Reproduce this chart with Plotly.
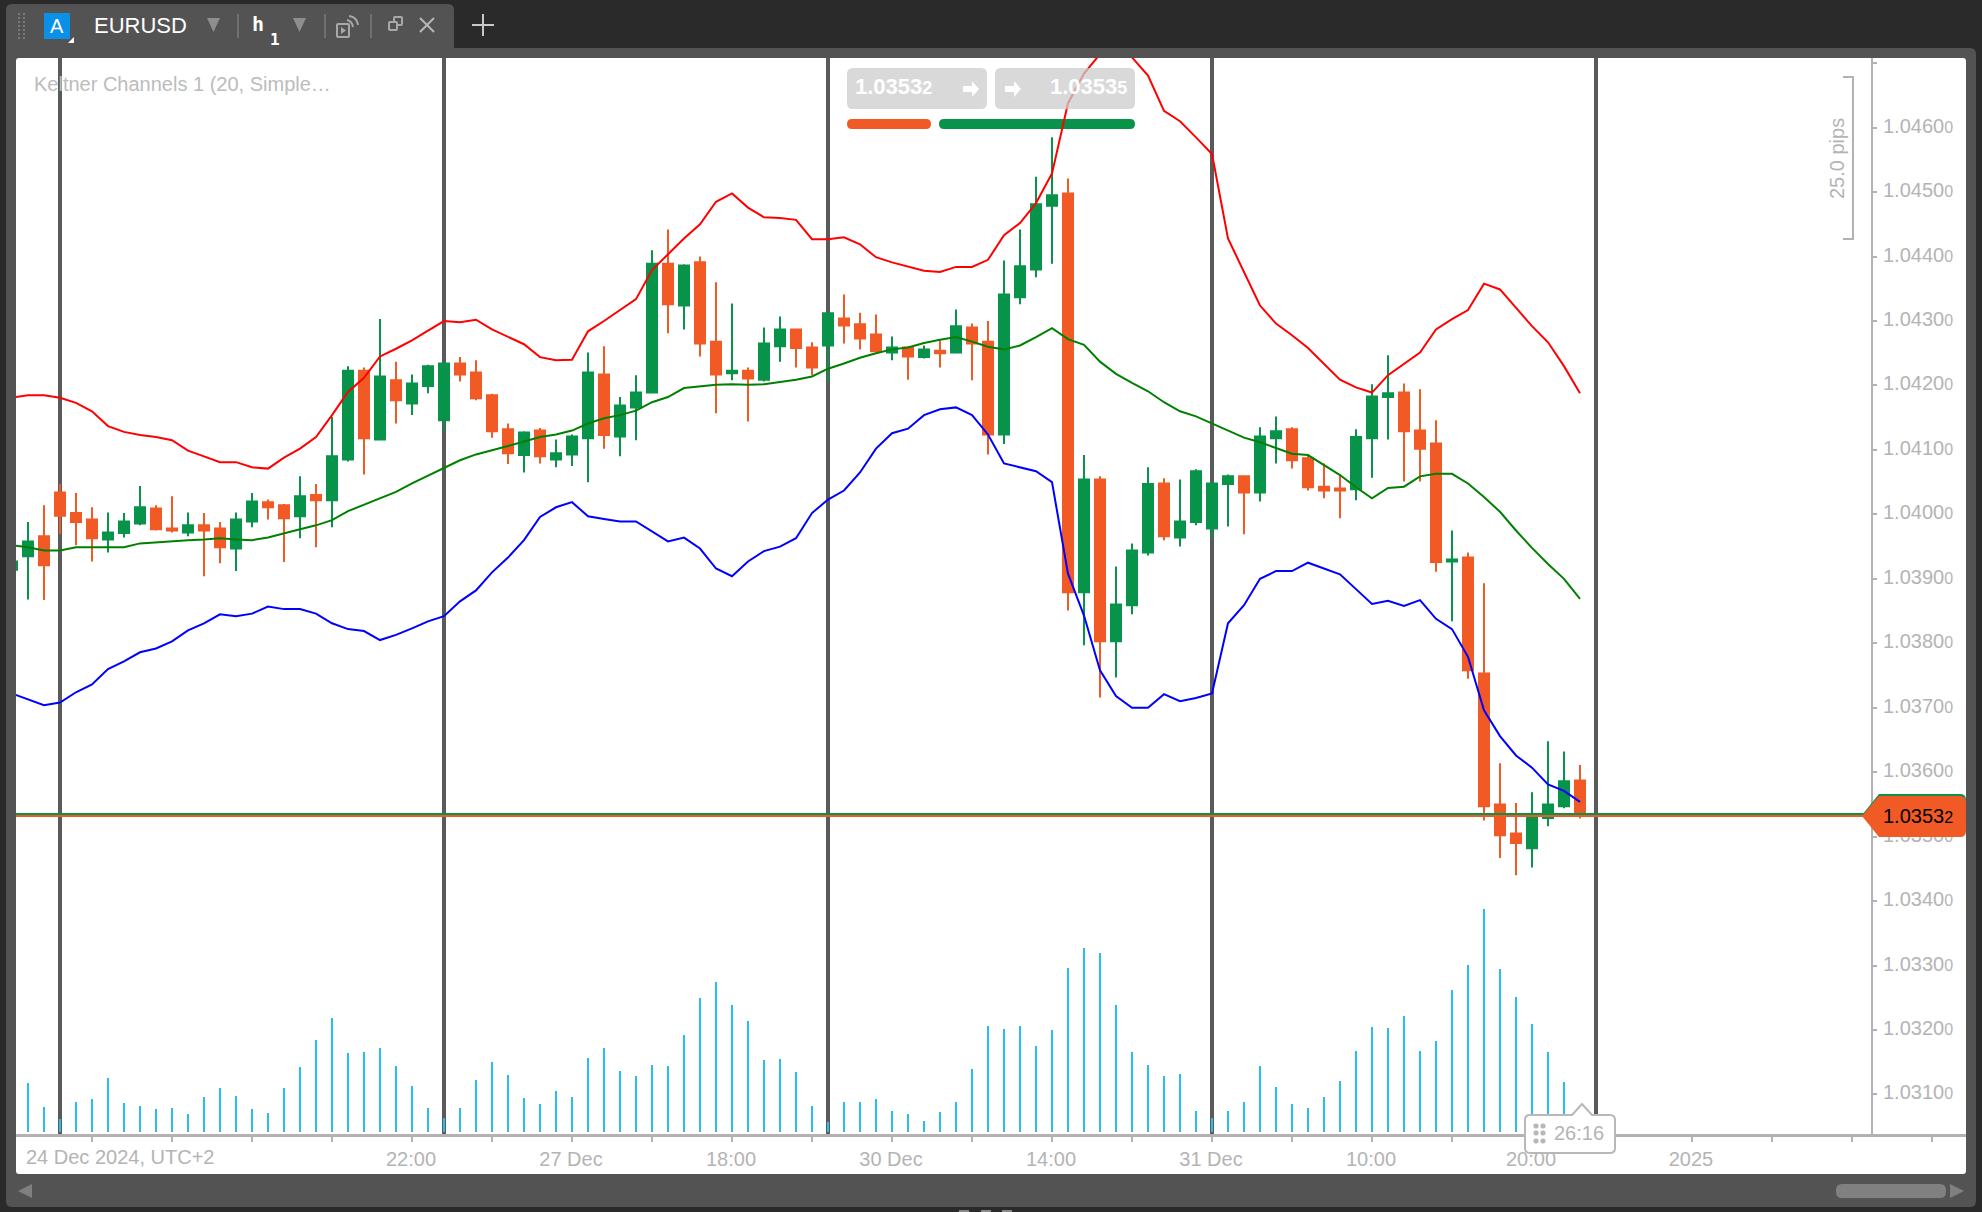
import plotly.graph_objects as go

bar_index = list(range(-1, 98))
open_ = [1.03914,1.03935,1.03966,1.04034,1.04002,1.03992,1.03961,1.03971,1.03986,1.04009,
1.03978,1.03972,1.03983,1.03978,1.03947,1.03989,1.04019,1.04014,1.03997,1.04030,
1.04022,1.04085,1.04223,1.04116,1.04208,1.04172,1.04199,1.04146,1.04234,1.04220,
1.04185,1.04132,1.04092,1.04130,1.04085,1.04093,1.04118,1.04217,1.04121,1.04166,
1.04189,1.04389,1.04324,1.04391,1.04268,1.04219,1.04223,1.04209,1.04261,1.04287,
1.04259,1.04262,1.04304,1.04295,1.04279,1.04251,1.04259,1.04244,1.04254,1.04251,
1.04290,1.04268,1.04124,1.04337,1.04380,1.04479,1.04498,1.03879,1.04054,1.03803,
1.03859,1.03941,1.04048,1.03964,1.03988,1.03978,1.04047,1.04059,1.04034,1.04118,
1.04132,1.04087,1.04043,1.04040,1.04039,1.04118,1.04182,1.04189,1.04130,1.04110,
1.03927,1.03933,1.03753,1.03550,1.03505,1.03482,1.03529,1.03547,1.03587]
high = [1.03935,1.03988,1.04014,1.04047,1.04033,1.04011,1.04003,1.04002,1.04044,1.04014,
1.04028,1.04003,1.04002,1.03988,1.04003,1.04033,1.04023,1.04016,1.04059,1.04047,
1.04151,1.04230,1.04228,1.04303,1.04237,1.04217,1.04232,1.04236,1.04244,1.04239,
1.04187,1.04141,1.04129,1.04134,1.04116,1.04124,1.04251,1.04261,1.04182,1.04216,
1.04410,1.04442,1.04388,1.04400,1.04360,1.04327,1.04228,1.04290,1.04307,1.04288,
1.04267,1.04312,1.04341,1.04313,1.04310,1.04276,1.04259,1.04262,1.04270,1.04318,
1.04296,1.04300,1.04394,1.04442,1.04524,1.04585,1.04521,1.04092,1.04059,1.03919,
1.03955,1.04073,1.04056,1.04054,1.04070,1.04048,1.04062,1.04060,1.04135,1.04152,
1.04135,1.04092,1.04079,1.04060,1.04132,1.04202,1.04247,1.04203,1.04194,1.04146,
1.03975,1.03941,1.03893,1.03614,1.03552,1.03569,1.03648,1.03632,1.03611]
low = [1.03905,1.03868,1.03867,1.03969,1.03952,1.03927,1.03941,1.03964,1.03983,1.03975,
1.03972,1.03966,1.03904,1.03924,1.03912,1.03980,1.03992,1.03926,1.03963,1.03949,
1.03980,1.04082,1.04062,1.04115,1.04141,1.04154,1.04188,1.04129,1.04206,1.04177,
1.04119,1.04078,1.04065,1.04079,1.04073,1.04075,1.04050,1.04102,1.04090,1.04115,
1.04188,1.04281,1.04287,1.04245,1.04157,1.04208,1.04144,1.04206,1.04237,1.04228,
1.04216,1.04206,1.04265,1.04256,1.04253,1.04239,1.04209,1.04242,1.04228,1.04251,
1.04208,1.04093,1.04109,1.04326,1.04368,1.04389,1.03851,1.03797,1.03716,1.03747,
1.03845,1.03936,1.03960,1.03950,1.03983,1.03964,1.03981,1.03969,1.04020,1.04079,
1.04071,1.04037,1.04025,1.03994,1.04022,1.04057,1.04116,1.04051,1.04051,1.03911,
1.03834,1.03745,1.03525,1.03467,1.03440,1.03452,1.03516,1.03544,1.03528]
close = [1.03927,1.03958,1.03921,1.03998,1.03988,1.03963,1.03972,1.03989,1.04011,1.03977,
1.03975,1.03983,1.03975,1.03949,1.03992,1.04020,1.04011,1.03994,1.04028,1.04022,
1.04090,1.04223,1.04118,1.04214,1.04177,1.04203,1.04230,1.04234,1.04217,1.04180,
1.04129,1.04095,1.04127,1.04090,1.04095,1.04121,1.04220,1.04123,1.04169,1.04189,
1.04389,1.04326,1.04386,1.04265,1.04217,1.04223,1.04211,1.04265,1.04287,1.04258,
1.04228,1.04312,1.04293,1.04273,1.04253,1.04259,1.04245,1.04256,1.04250,1.04292,
1.04265,1.04124,1.04341,1.04385,1.04481,1.04495,1.03879,1.04054,1.03803,1.03860,
1.03944,1.04047,1.03966,1.03989,1.04067,1.04048,1.04059,1.04034,1.04121,1.04129,
1.04084,1.04042,1.04037,1.04037,1.04120,1.04183,1.04188,1.04129,1.04102,1.03926,
1.03930,1.03758,1.03547,1.03502,1.03490,1.03530,1.03550,1.03586,1.03532]
keltner_upper = [1.04181,1.04185,1.04185,1.04181,1.04173,1.04160,1.04137,1.04128,1.04123,1.04120,
1.04115,1.04099,1.04090,1.04081,1.04081,1.04073,1.04071,1.04088,1.04102,1.04120,
1.04154,1.04190,1.04212,1.04245,1.04257,1.04270,1.04285,1.04300,1.04298,1.04302,
1.04287,1.04276,1.04264,1.04244,1.04239,1.04240,1.04284,1.04300,1.04317,1.04334,
1.04379,1.04404,1.04428,1.04450,1.04485,1.04498,1.04476,1.04461,1.04460,1.04457,
1.04427,1.04427,1.04430,1.04419,1.04399,1.04391,1.04384,1.04378,1.04376,1.04384,
1.04384,1.04395,1.04433,1.04452,1.04483,1.04529,1.04638,1.04684,1.04714,1.04723,
1.04709,1.04681,1.04626,1.04610,1.04585,1.04559,1.04428,1.04376,1.04324,1.04296,
1.04278,1.04258,1.04234,1.04209,1.04197,1.04189,1.04216,1.04233,1.04251,1.04287,
1.04303,1.04317,1.04358,1.04349,1.04321,1.04292,1.04267,1.04230,1.04188]
keltner_middle = [1.03952,1.03949,1.03944,1.03944,1.03949,1.03949,1.03949,1.03949,1.03955,1.03957,
1.03958,1.03960,1.03961,1.03963,1.03961,1.03960,1.03964,1.03971,1.03977,1.03983,
1.03991,1.04005,1.04015,1.04025,1.04035,1.04048,1.04060,1.04072,1.04084,1.04093,
1.04099,1.04106,1.04113,1.04120,1.04124,1.04130,1.04141,1.04149,1.04154,1.04161,
1.04174,1.04182,1.04196,1.04199,1.04201,1.04202,1.04201,1.04202,1.04205,1.04209,
1.04214,1.04226,1.04234,1.04243,1.04250,1.04256,1.04259,1.04266,1.04271,1.04275,
1.04268,1.04260,1.04256,1.04262,1.04275,1.04289,1.04272,1.04263,1.04237,1.04218,
1.04204,1.04191,1.04174,1.04160,1.04152,1.04141,1.04131,1.04119,1.04112,1.04103,
1.04094,1.04092,1.04076,1.04061,1.04042,1.04025,1.04041,1.04043,1.04059,1.04063,
1.04063,1.04048,1.04027,1.04004,1.03975,1.03948,1.03923,1.03900,1.03869]
keltner_lower = [1.03722,1.03713,1.03704,1.03708,1.03724,1.03736,1.03760,1.03772,1.03786,1.03792,
1.03803,1.03820,1.03831,1.03845,1.03842,1.03846,1.03857,1.03853,1.03853,1.03846,
1.03831,1.03822,1.03819,1.03805,1.03813,1.03823,1.03834,1.03842,1.03865,1.03882,
1.03910,1.03933,1.03960,1.03996,1.04011,1.04019,1.03997,1.03993,1.03989,1.03989,
1.03973,1.03958,1.03964,1.03947,1.03916,1.03904,1.03927,1.03943,1.03950,1.03963,
1.04002,1.04023,1.04037,1.04065,1.04102,1.04126,1.04133,1.04154,1.04163,1.04166,
1.04154,1.04124,1.04079,1.04073,1.04067,1.04050,1.03908,1.03843,1.03758,1.03718,
1.03700,1.03700,1.03721,1.03710,1.03715,1.03722,1.03831,1.03859,1.03900,1.03912,
1.03912,1.03925,1.03916,1.03907,1.03884,1.03861,1.03866,1.03858,1.03867,1.03838,
1.03822,1.03779,1.03696,1.03656,1.03626,1.03607,1.03581,1.03571,1.03554]
volume_index = list(range(0, 98))
volume = [146,74,38,89,98,161,86,77,68,71,53,104,131,107,68,56,131,194,275,341,
236,239,251,197,137,71,41,71,155,209,170,101,83,122,104,221,251,182,167,200,
197,290,401,449,380,332,215,218,179,
77,29,89,89,98,62,53,32,59,89,188,317,308,317,257,305,491,551,536,380,
239,200,167,173,62,41,62,89,197,134,83,71,104,152,242,314,311,347,242,272,
425,500,668,488,404,323,239,149,16]
separator_index = [2, 26, 50, 74, 98]
bid = 1.03532
ask = 1.03535
price_ticks = [1.047,1.046,1.045,1.044,1.043,1.042,1.041,1.040,1.039,1.038,1.037,1.036,1.035,1.034,1.033,1.032,1.031]
time_ticks = list(range(4, 120, 5))
time_labels = {24:"22:00", 34:"27 Dec", 44:"18:00", 54:"30 Dec", 64:"14:00", 74:"31 Dec", 84:"10:00", 94:"20:00", 104:"2025"}

GREEN = "#07934a"
ORANGE = "#f15a24"
AXIS = "#b2b2b2"
TEXT = "#b4b4b4"
FONT = "Liberation Sans"

# pixel geometry of the plot box
L, R, T, B = 16, 1966, 58, 1134
def px(x): return (x - L) / (R - L)
def py(y): return (B - y) / (B - T)

shapes, notes = [], []
def path(d, fill=None, line=None, width=0, layer="below"):
    out = []
    toks = d.split()
    i = 0
    while i < len(toks):
        t = toks[i]
        if t.isalpha():
            out.append(t); i += 1
        else:
            out.append(f"{px(float(t)):.6f},{py(float(toks[i+1])):.6f}"); i += 2
    s = dict(type="path", xref="paper", yref="paper", path=" ".join(out), layer=layer)
    s["fillcolor"] = fill if fill else "rgba(0,0,0,0)"
    s["line"] = dict(color=line, width=width) if line else dict(width=0)
    shapes.append(s)
def rrect(x0, y0, x1, y1, r, **kw):
    path(f"M {x0+r} {y0} L {x1-r} {y0} Q {x1} {y0} {x1} {y0+r} L {x1} {y1-r} Q {x1} {y1} {x1-r} {y1} "
         f"L {x0+r} {y1} Q {x0} {y1} {x0} {y1-r} L {x0} {y0+r} Q {x0} {y0} {x0+r} {y0} Z", **kw)
def note(x, y, text, size=20, color=TEXT, anchor="center", angle=0, family=FONT, bold=False):
    notes.append(dict(xref="paper", yref="paper", x=px(x), y=py(y), text=f"<b>{text}</b>" if bold else text,
                      showarrow=False, xanchor=anchor, yanchor="middle", textangle=angle,
                      font=dict(size=size, color=color, family=family)))
def small(text, size):
    return f'{text[:-1]}<span style="font-size:{size}px">{text[-1]}</span>'

# window chrome
rrect(6, 4, 454, 60, 6, fill="#535353")
rrect(6, 48, 1976, 1207, 6, fill="#535353")
rrect(16, 58, 1966, 1174, 3, fill="#ffffff")
for r_ in range(7):
    for c_ in (19, 24):
        rrect(c_-1, 14+r_*4-1, c_+1, 14+r_*4+1, 0.5, fill="#7e7e7e")
path("M 44 13 L 70 13 L 70 39 L 44 39 Z", fill="#0a90e6")
note(57, 26, "A", size=20, color="#ffffff")
path("M 74 37 L 74 43 L 68 43 Z", fill="#ffffff")
note(92, 26, "EURUSD", size=22, color="#ffffff", anchor="left")
for a in (207, 293):
    path(f"M {a} 18 L {a+13} 18 L {a+6.5} 32 Z", fill="#8e8e8e")
for a in (238, 325, 371):
    path(f"M {a} 14 L {a} 38", line="#707070", width=2)
note(258, 24, "h", size=20, color="#ffffff", bold=True, family="DejaVu Sans Mono")
note(275, 39, "1", size=16, color="#ffffff", bold=True, family="DejaVu Sans Mono")
ICON = "#a8a8a8"
rrect(337, 24, 349, 37, 1, line=ICON, width=2)
path("M 341 27 L 341 34 L 346 30.5 Z", fill=ICON)
path("M 347 20 Q 352 21 353 27", line=ICON, width=2)
path("M 349 16 Q 357 17 358 25", line=ICON, width=2)
rrect(394, 17, 402, 25, 1, line=ICON, width=2)
rrect(389, 22, 397, 30, 1, fill="#535353", line=ICON, width=2)
path("M 420 18 L 434 32", line="#b8b8b8", width=2)
path("M 434 18 L 420 32", line="#b8b8b8", width=2)
path("M 472 25 L 494 25", line="#c8c8c8", width=2)
path("M 483 14 L 483 36", line="#c8c8c8", width=2)
# scrollbar
path("M 32 1184 L 32 1198 L 18 1191 Z", fill="#808080")
path("M 1950 1184 L 1950 1198 L 1964 1191 Z", fill="#808080")
rrect(1836, 1184, 1946, 1198, 6, fill="#808080")
for a in (964, 986, 1007):
    path(f"M {a-5} 1210 L {a+5} 1210 L {a+5} 1212 L {a-5} 1212 Z", fill="#8a8a8a")

# period separators
for s in separator_index:
    shapes.append(dict(type="line", xref="x", yref="paper", x0=s, x1=s, y0=0, y1=1, layer="below",
                       line=dict(color="#5a5a5a", width=4)))

# one-click trading widget
rrect(847, 119, 931, 129, 5, fill=ORANGE)
rrect(939, 119, 1135, 129, 5, fill=GREEN)
rrect(847, 68, 987, 109, 6, fill="rgba(204,204,204,0.75)", layer="above")
rrect(995, 68, 1135, 109, 6, fill="rgba(204,204,204,0.75)", layer="above")
for a in (963, 1005):
    path(f"M {a} 86 L {a+9} 86 L {a+9} 81 L {a+16} 89 L {a+9} 97 L {a+9} 92 L {a} 92 Z", fill="#ffffff", layer="above")
note(853, 87, small(f"{bid:.5f}", 18), size=22, color="#ffffff", anchor="left", bold=True)
note(1129, 87, small(f"{ask:.5f}", 18), size=22, color="#ffffff", anchor="right", bold=True)

note(31.5, 84, "Keltner Channels 1 (20, Simple…", size=20, color="#bcbcbc", anchor="left")
note(24, 1157, "24 Dec 2024, UTC+2", size=20, anchor="left")

# pip ruler
path("M 1843 77 L 1853 77 L 1853 239 L 1843 239", line=AXIS, width=2)
note(1837, 159, "25.0 pips", size=20, angle=-90)

# current price lines and label
for p_, c_ in ((ask, GREEN), (bid, ORANGE)):
    shapes.append(dict(type="line", xref="paper", yref="y", x0=0, x1=px(1864), y0=p_, y1=p_, layer="above",
                       line=dict(color=c_, width=2)))
path("M 1862 815 L 1879 794 L 1960 794 Q 1966 794 1966 800 L 1966 815 Z", fill=GREEN, layer="above")
path("M 1862 816 L 1879 796 L 1960 796 Q 1966 796 1966 802 L 1966 831 Q 1966 837 1960 837 L 1879 837 Z", fill=ORANGE, layer="above")
note(1881, 815.5, small(f"{bid:.5f}", 16), size=20, color="#000000", anchor="left")

# candle countdown
path("M 1530 1115 L 1572 1115 L 1582 1104 L 1592 1115 L 1610 1115 Q 1615 1115 1615 1120 L 1615 1148 Q 1615 1153 1610 1153 "
     "L 1530 1153 Q 1525 1153 1525 1148 L 1525 1120 Q 1525 1115 1530 1115 Z", fill="#ffffff", line="#b8b8b8", width=2, layer="above")
for yy in (1126, 1133, 1141):
    for xx in (1536, 1543):
        rrect(xx-2.5, yy-2.5, xx+2.5, yy+2.5, 2, fill="#b8b8b8", layer="above")
note(1579, 1133, "26:16", size=20)

fig = go.Figure()
fig.add_trace(go.Candlestick(
    x=bar_index, open=open_, high=high, low=low, close=close, whiskerwidth=0, hoverinfo="skip",
    increasing=dict(line=dict(color=GREEN, width=2), fillcolor=GREEN),
    decreasing=dict(line=dict(color=ORANGE, width=2), fillcolor=ORANGE)))
for vals, col in ((keltner_upper, "#ff0000"), (keltner_middle, "#008000"), (keltner_lower, "#0000ff")):
    fig.add_trace(go.Scatter(x=bar_index, y=vals, mode="lines", line=dict(color=col, width=2), hoverinfo="skip"))
fig.add_trace(go.Bar(x=volume_index, y=volume, yaxis="y2", width=0.125, marker=dict(color="#29bdf5", line=dict(width=0)),
                     hoverinfo="skip"))

fig.update_layout(
    width=1982, height=1212, margin=dict(l=L, r=1982-R, t=T, b=1212-B, pad=0),
    paper_bgcolor="#2a2a2a", plot_bgcolor="rgba(0,0,0,0)", showlegend=False,
    boxgap=0.375, boxgroupgap=0, bargap=0, shapes=shapes, annotations=notes,
    font=dict(family=FONT, size=20, color=TEXT),
    xaxis=dict(range=[(L-28)/16, (R-28)/16], type="linear", rangeslider=dict(visible=False), showgrid=False, zeroline=False,
               showline=True, linecolor=AXIS, linewidth=3, ticks="outside", ticklen=5, tickwidth=2, tickcolor=AXIS,
               tickmode="array", tickvals=time_ticks, ticktext=[time_labels.get(t, "") for t in time_ticks],
               tickfont=dict(size=20, color=TEXT, family=FONT), ticklabelstandoff=0, ticklabelshift=-1),
    yaxis=dict(range=[1.030386, 1.047081], side="right", anchor="free", position=px(1872), showgrid=False, zeroline=False,
               showline=True, linecolor=AXIS, linewidth=2, ticks="outside", ticklen=4, tickwidth=2, tickcolor=AXIS,
               tickmode="array", tickvals=price_ticks,
               ticktext=["" if p == 1.047 else small(f"{p:.5f}", 16) for p in price_ticks],
               tickfont=dict(size=20, color=TEXT, family=FONT), ticklabelstandoff=2, ticklabelshift=-2),
    yaxis2=dict(overlaying="y", range=[-6, 3222], visible=False, anchor="x"),
)
fig.write_html("out.html", config=dict(displayModeBar=False),
               post_script="document.body.style.margin='0';document.documentElement.style.overflow='hidden';")
